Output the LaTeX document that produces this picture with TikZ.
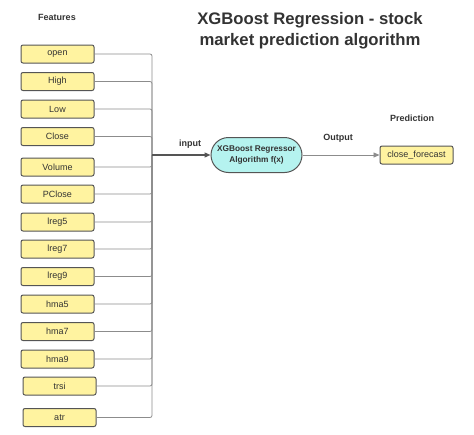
\documentclass[tikz,border=0pt]{standalone}
\usepackage{fontspec}
\setmainfont{Liberation Sans}
\usetikzlibrary{arrows.meta,positioning,shapes.misc}

\definecolor{featfill}{HTML}{FFF3A0}
\definecolor{algofill}{HTML}{B5F3EF}
\definecolor{edgegray}{HTML}{555555}
\definecolor{linegray}{HTML}{8C8C8C}
\definecolor{txtgray}{HTML}{333333}

\tikzset{
  feat/.style={draw=edgegray, fill=featfill, rounded corners=2pt, line width=1pt,
    minimum width=73pt, minimum height=18pt, inner sep=0pt,
    font=\fontsize{9}{10}\selectfont, text=txtgray},
  algo/.style={draw=edgegray, fill=algofill, rounded rectangle, line width=1pt,
    minimum width=93pt, minimum height=35pt, inner sep=1pt, align=center,
    font=\bfseries\fontsize{8.3}{10.5}\selectfont, text=txtgray},
  hdr/.style={font=\bfseries\fontsize{9}{10}\selectfont, text=txtgray},
  feed/.style={linegray, line width=0.8pt, rounded corners=2pt},
}

\begin{document}
\begin{tikzpicture}[x=1pt, y=-1pt]
  \useasboundingbox (0,0) rectangle (474,434);
  \node[font=\bfseries\fontsize{16.7}{21}\selectfont, text=txtgray, align=center] (title) at (310,31)
    {XGBoost Regression - stock\\market prediction algorithm};
  \node[hdr] (featlbl) at (57,17) {Features};
  % feature boxes
  \foreach \n/\x/\y in {open/57.5/54, High/57.5/81.5, Low/57.5/109, Close/57.5/136.5,
      Volume/57.5/167, PClose/57.5/194, lreg5/57.5/222, lreg7/57.5/249, lreg9/57.5/276.5,
      hma5/57.5/304, hma7/57.5/331.5, hma9/57.5/359, trsi/59.5/386, atr/59.5/417.5}
    \node[feat] (\n) at (\x,\y) {\n};
  \coordinate (jn) at (152,155);
  \node[algo] (algo) at (256.5,155) {XGBoost Regressor\\Algorithm f(x)};
  \node[feat] (forecast) at (416.5,155) {close\_forecast};
  \node[hdr] (inlbl) at (190,144) {input};
  \node[hdr] (outlbl) at (338,138) {Output};
  \node[hdr] (predlbl) at (412,118) {Prediction};
  % connectors
  \foreach \n in {open, High, Low, Close, Volume, PClose, lreg5, lreg7, lreg9,
      hma5, hma7, hma9, trsi, atr}
    \draw[feed] (\n.east) -| (jn);
  \draw[-{Triangle[length=6pt, width=5pt]}, edgegray, line width=1.3pt] (jn) -- (algo.west);
  \draw[-{Triangle[length=6pt, width=5pt]}, linegray, line width=0.8pt] (algo.east) -- (forecast.west);
\end{tikzpicture}
\end{document}
